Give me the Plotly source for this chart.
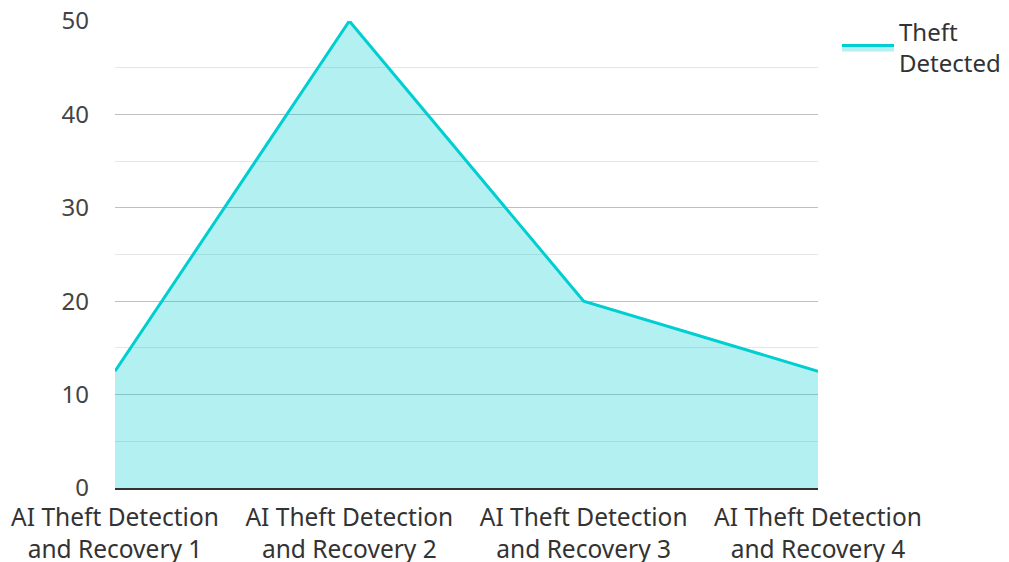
import plotly.graph_objects as go

categories = ["AI Theft Detection<br>and Recovery 1", "AI Theft Detection<br>and Recovery 2",
              "AI Theft Detection<br>and Recovery 3", "AI Theft Detection<br>and Recovery 4"]
theft_detected = [12.5, 50, 20, 12.5]
series_name = "Theft<br>Detected"

fig = go.Figure()
fig.add_trace(go.Scatter(
    x=categories, y=theft_detected, name=series_name, mode="lines",
    line=dict(color="#00CED1", width=3),
    fill="tozeroy", fillcolor="rgba(0,206,209,0.3)",
))

font_family = "Noto Sans, Open Sans, sans-serif"
fig.update_layout(
    width=1009, height=562,
    margin=dict(l=115, r=191, t=21, b=74, autoexpand=False),
    paper_bgcolor="white", plot_bgcolor="white",
    font=dict(family=font_family, size=24, color="#444"),
    showlegend=True,
    legend=dict(x=1.027, y=1.024, xanchor="left", yanchor="top", itemwidth=52,
                font=dict(size=24, color="#333"), bgcolor="rgba(0,0,0,0)"),
    xaxis=dict(type="category", range=[0, 3], showgrid=False, automargin=False,
               showline=True, linecolor="#333", linewidth=2, ticklabelstandoff=7,
               ticks="", tickfont=dict(size=24.5, color="#333"), layer="above traces"),
    yaxis=dict(range=[0, 50], dtick=10, showgrid=True, gridcolor="#bfbfbf", gridwidth=1,
               minor=dict(dtick=5, showgrid=True, gridcolor="#e6e6e6", gridwidth=1),
               zeroline=False, showline=False, ticks="", automargin=False,
               ticklabelstandoff=25,
               tickfont=dict(size=24, color="#444"), layer="above traces"),
)

fig.write_html("out.html", config={"displayModeBar": False},
               post_script="document.body.style.margin='0';document.body.style.overflow='hidden';")
